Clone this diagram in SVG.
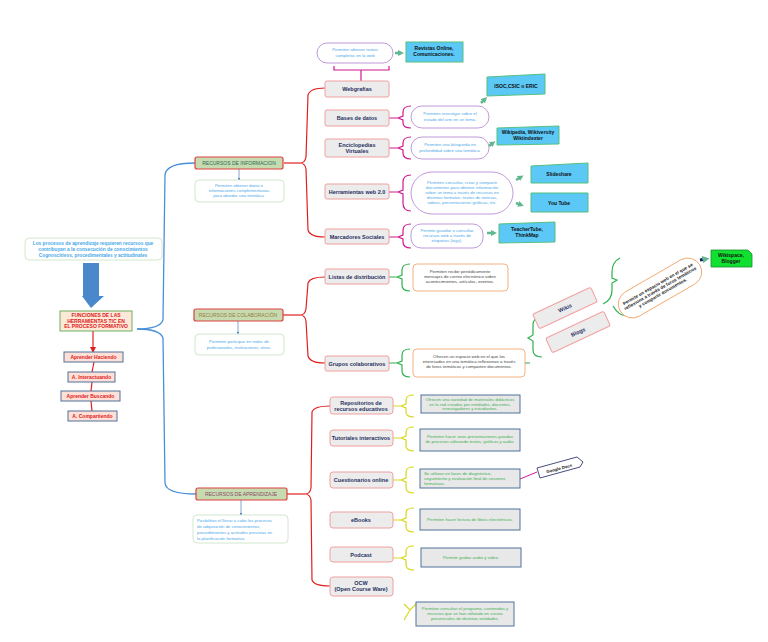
<svg xmlns="http://www.w3.org/2000/svg" width="768" height="642" viewBox="0 0 768 642">
<defs>
<style>
text{font-family:"Liberation Sans",Arial,sans-serif;text-anchor:middle}
.st{text-anchor:start}
.nd{fill:#ececec;stroke:#f2a0a0;stroke-width:1}
.nt{font-size:5.5px;font-weight:bold;fill:#1f2f5f}
.rb{fill:#c6dcb0;stroke:#e04040;stroke-width:1.2}
.cy{fill:#5bc8f5;stroke:#55c080;stroke-width:1}
.ct{font-size:5px;font-weight:bold;fill:#111}
.pd{fill:#fff;stroke:#b080d0;stroke-width:0.8}
.dt{font-size:4.3px;fill:#4aa8e8}
.od{fill:#fff;stroke:#f0a060;stroke-width:0.8}
.ot{font-size:4.3px;fill:#444}
.bd{fill:#e8e8e8;stroke:#50709a;stroke-width:1}
.gt{font-size:4.3px;fill:#40b050}
.gd{fill:#fff;stroke:#c8e0c0;stroke-width:0.8}
.lf{fill:#fde0d8;stroke:#50709a;stroke-width:1}
.lt{font-size:5px;font-weight:bold;fill:#e02020}
.red{fill:none;stroke:#e02020;stroke-width:1.2}
.mg{fill:none;stroke:#d01890;stroke-width:1.2}
.gr{fill:none;stroke:#30b050;stroke-width:1.2}
.yl{fill:none;stroke:#d8d820;stroke-width:1.2}
.ga{fill:none;stroke:#60b890;stroke-width:2.5}
</style>
<marker id="ar" viewBox="0 0 6 6" refX="5" refY="3" markerWidth="5" markerHeight="5" orient="auto"><path d="M0,0L6,3L0,6z" fill="#e02020"/></marker>
<marker id="ab" viewBox="0 0 6 6" refX="5" refY="3" markerWidth="4" markerHeight="4" orient="auto"><path d="M0,0L6,3L0,6z" fill="#5080c0"/></marker>
<marker id="ag" viewBox="0 0 6 6" refX="3" refY="3" markerWidth="2.4" markerHeight="2.4" orient="auto"><path d="M0,0L6,3L0,6z" fill="#60b890"/></marker>
</defs>

<g id="connectors">
<path d="M137,329 Q160,329 163,320 L165,175 Q166,163 195,163" fill="none" stroke="#4a90d8" stroke-width="1.3"/>
<path d="M137,329 Q160,329 163,338 L165,483 Q166,494 196,494" fill="none" stroke="#4a90d8" stroke-width="1.3"/>
<line x1="93" y1="331" x2="93" y2="352" class="red" marker-end="url(#ar)"/>
<line x1="94" y1="362" x2="92" y2="372" class="red"/>
<line x1="92" y1="382" x2="91" y2="391" class="red"/>
<line x1="91" y1="401" x2="92" y2="411" class="red"/>
<line x1="239" y1="169" x2="239" y2="180" stroke="#5080c0" stroke-width="0.7" marker-end="url(#ab)"/>
<line x1="238" y1="321" x2="238" y2="334" stroke="#5080c0" stroke-width="0.7" marker-end="url(#ab)"/>
<line x1="241" y1="500" x2="241" y2="515" stroke="#5080c0" stroke-width="0.7" marker-end="url(#ab)"/>
<line x1="284" y1="163" x2="300" y2="163" class="red"/>
<path d="M325,88 Q310,88 308,95 L306,157 Q305,163 300,163 Q305,163 306,169 L308,230 Q310,237 325,237" class="red"/>
<line x1="283" y1="315" x2="300" y2="315" class="red"/>
<path d="M325,277 Q310,277 308,283 L306,309 Q305,315 300,315 Q305,315 306,321 L308,356 Q310,363 325,363" class="red"/>
<line x1="287" y1="494" x2="305" y2="494" class="red"/>
<path d="M330,406 Q314,406 312,412 L311,488 Q310,494 305,494 Q310,494 311,500 L312,580 Q314,586 330,586" class="red"/>
<path d="M334,66 L334,70 L389,70 L389,66 M361,70 L361,81" class="mg"/>
<path d="M389,118 L398,118 M411,106 Q403,106 403,112 L403,116 L398,118 L403,120 L403,123 Q403,128 411,128" class="mg"/>
<path d="M389,148 L398,148 M411,137 Q403,137 403,143 L403,146 L398,148 L403,150 L403,153 Q403,159 411,159" class="mg"/>
<path d="M389,192 L398,192 M411,175 Q403,175 403,182 L403,190 L398,192 L403,194 L403,203 Q403,211 411,211" class="mg"/>
<path d="M389,237 L398,237 M411,224 Q403,224 403,230 L403,235 L398,237 L403,239 L403,242 Q403,248 411,248" class="mg"/>
<path d="M389,277 L397,277 M410,264 Q402,264 402,270 L402,275 L397,277 L402,279 L402,285 Q402,291 410,291" class="gr"/>
<path d="M389,363 L397,363 M410,349 Q402,349 402,355 L402,361 L397,363 L402,365 L402,371 Q402,377 410,377" class="gr"/>
<path d="M525,363 L530,363 M540,318 Q533,318 533,325 L533,335 L528,338 L533,341 L533,350 Q533,357 542,357" class="gr"/>
<path d="M603,304 Q612,300 612,290 L612,283 L617,280 L612,278 L612,272 Q612,262 620,258" class="gr"/>
<path d="M613,306 Q620,318 630,315" class="gr"/>
<path d="M393,406 L401,406 M414,395 Q406,395 406,400 L406,404 L401,406 L406,408 L406,412 Q406,417 414,417" class="yl"/>
<path d="M393,438 L401,438 M414,427 Q406,427 406,432 L406,436 L401,438 L406,440 L406,446 Q406,451 414,451" class="yl"/>
<path d="M393,480 L401,480 M414,467 Q406,467 406,472 L406,478 L401,480 L406,482 L406,488 Q406,493 414,493" class="yl"/>
<path d="M393,520 L401,520 M414,508 Q406,508 406,513 L406,518 L401,520 L406,522 L406,527 Q406,532 414,532" class="yl"/>
<path d="M393,558 L401,558 M414,546 Q406,546 406,551 L406,556 L401,558 L406,560 L406,565 Q406,570 414,570" class="yl"/>
<path d="M410,610 L404,620 M404,604 L410,610 L416,604 L421,608" class="yl"/>
<line x1="520" y1="479" x2="537" y2="472" stroke="#d01890" stroke-width="1"/>
<line x1="395" y1="53" x2="401" y2="53" class="ga" marker-end="url(#ag)"/>
<line x1="481" y1="103" x2="485" y2="99" class="ga" marker-end="url(#ag)"/>
<line x1="489" y1="146" x2="493" y2="143" class="ga" marker-end="url(#ag)"/>
<line x1="516" y1="180" x2="521" y2="177" class="ga" marker-end="url(#ag)"/>
<line x1="516" y1="203" x2="521" y2="205" class="ga" marker-end="url(#ag)"/>
<line x1="487" y1="233" x2="494" y2="233" class="ga" marker-end="url(#ag)"/>
<line x1="700" y1="260" x2="706" y2="259" stroke="#1a2060" stroke-width="3" marker-end="url(#ag)"/>
</g>

<g id="intro"><rect x="25" y="238" width="137" height="22" rx="4" class="gd"/>
<text x="93" y="245" font-size="4.8" font-weight="bold" fill="#4aa8e8">Los procesos de aprendizaje requieren recursos que</text>
<text x="93" y="251" font-size="4.8" font-weight="bold" fill="#4aa8e8">contribuyan a la consecución de conocimientos</text>
<text x="93" y="257" font-size="4.8" font-weight="bold" fill="#4aa8e8">Cognoscitivos, procedimentales y actitudinales</text></g>
<g id="bigarrow"><path d="M83,263 L99,263 L99,296 L104,296 L91,308 L82,296 L83,296z" fill="#4a88cc"/></g>
<g id="funciones"><rect x="60" y="311" width="72" height="20" fill="#fde9d9" stroke="#6cb060" stroke-width="1"/>
<text x="96" y="317" class="lt" font-size="4.8">FUNCIONES DE LAS</text><text x="96" y="322.5" class="lt" font-size="4.8">HERRAMIENTAS TIC EN</text><text x="96" y="328" class="lt" font-size="4.8">EL PROCESO FORMATIVO</text></g>
<g id="haciendo"><rect x="64" y="352" width="59" height="10" class="lf"/><text x="93.5" y="359" class="lt">Aprender Haciendo</text></g>
<g id="interactuando"><rect x="68" y="372" width="47" height="10" class="lf"/><text x="91.5" y="379" class="lt">A. Interactuando</text></g>
<g id="buscando"><rect x="61" y="391" width="59" height="10" class="lf"/><text x="90.5" y="398" class="lt">Aprender Buscando</text></g>
<g id="compartiendo"><rect x="68" y="411" width="49" height="10" class="lf"/><text x="92.5" y="418" class="lt">A. Compartiendo</text></g>

<g id="rinfo"><rect x="195" y="157" width="88" height="12" rx="2" class="rb"/><text x="239" y="165" font-size="5" fill="#2a6a5a">RECURSOS DE INFORMACION</text></g>
<g id="dinfo"><rect x="195" y="180" width="89" height="22" rx="4" class="gd"/><text x="239" y="187" class="dt">Permiten obtener datos e</text><text x="239" y="192" class="dt">informaciones complementarias</text><text x="239" y="197" class="dt">para abordar una temática.</text></g>
<g id="rcolab"><rect x="194" y="309" width="89" height="12" rx="2" class="rb"/><text x="238" y="317" font-size="5" fill="#9a7a40">RECURSOS DE COLABORACIÓN</text></g>
<g id="dcolab"><rect x="195" y="334" width="89" height="21" rx="4" class="gd"/><text x="239" y="343" class="dt">Permiten participar en redes de</text><text x="239" y="349" class="dt">profesionales, instituciones, otros.</text></g>
<g id="raprend"><rect x="196" y="488" width="91" height="12" rx="2" class="rb"/><text x="241" y="496" font-size="5" fill="#8a4a6a">RECURSOS DE APRENDIZAJE</text></g>
<g id="daprend"><rect x="193" y="515" width="95" height="28" rx="4" class="gd"/>
<text x="197" y="522" class="dt st">Posibilitan el llevar a cabo los procesos</text><text x="197" y="528" class="dt st">de    adquisición    de    conocimientos,</text><text x="197" y="534" class="dt st">procedimientos y actitudes previstas en</text><text x="197" y="540" class="dt st">la planificación formativa.</text></g>

<g id="webgrafias"><rect x="325" y="81" width="64" height="16" rx="2" class="nd"/><text x="357" y="91" class="nt">Webgrafías</text></g>
<g id="bases"><rect x="325" y="110" width="64" height="16" rx="2" class="nd"/><text x="357" y="120" class="nt">Bases de datos</text></g>
<g id="enciclo"><rect x="325" y="139" width="64" height="18" rx="2" class="nd"/><text x="357" y="147" class="nt">Enciclopedias</text><text x="357" y="153" class="nt">Virtuales</text></g>
<g id="herram"><rect x="325" y="184" width="64" height="15" rx="2" class="nd"/><text x="357" y="193.5" class="nt">Herramientas web 2.0</text></g>
<g id="marcad"><rect x="325" y="229" width="64" height="15" rx="2" class="nd"/><text x="357" y="238.5" class="nt">Marcadores Sociales</text></g>

<g id="dweb"><rect x="317" y="43" width="76" height="20" rx="10" class="pd"/><text x="355" y="51" class="dt">Permiten obtener textos</text><text x="355" y="57" class="dt">completos en la web</text></g>
<g id="revistas"><rect x="406" y="42" width="57" height="20" class="cy"/><text x="434" y="50" class="ct">Revistas Online,</text><text x="434" y="56" class="ct">Comunicaciones.</text></g>
<g id="dbases"><rect x="411" y="106" width="78" height="22" rx="11" class="pd"/><text x="450" y="115" class="dt">Permiten investigar sobre el</text><text x="450" y="121" class="dt">estado del arte en un tema.</text></g>
<g id="isoc"><polygon points="487,77 545,74 545,94 487,96" class="cy"/><text x="516" y="88" class="ct">ISOC,CSIC o ERIC</text></g>
<g id="denc"><rect x="411" y="137" width="78" height="22" rx="11" class="pd"/><text x="450" y="146" class="dt">Permiten  una  búsqueda  en</text><text x="450" y="152" class="dt">profundidad sobre una temática.</text></g>
<g id="wiki"><polygon points="497,128 559,126 559,144 497,145" class="cy"/><text x="528" y="134" class="ct">Wikipedia, Wikiversity</text><text x="528" y="140" class="ct">Wikiindexter</text></g>
<g id="dherr"><rect x="411" y="172" width="102" height="42" rx="21" class="pd"/><text x="462" y="184" class="dt">Permiten consultar, crear y compartir</text><text x="462" y="189" class="dt">documentos para obtener información</text><text x="462" y="194" class="dt">sobre un tema a través de recursos en</text><text x="462" y="199" class="dt">distintos formatos: textos de noticias,</text><text x="462" y="204" class="dt">videos, presentaciones gráficas, etc.</text></g>
<g id="slideshare"><polygon points="531,166 588,163 588,183 531,183" class="cy"/><text x="559" y="176" class="ct">Slideshare</text></g>
<g id="youtube"><polygon points="531,193 588,193 588,212 531,212" class="cy"/><text x="559" y="205" class="ct">You Tube</text></g>
<g id="dmarc"><rect x="411" y="224" width="72" height="24" rx="10" class="pd"/><text x="447" y="232" class="dt">Permite guardar o consultar</text><text x="447" y="237" class="dt">recursos web a través de</text><text x="447" y="242" class="dt">etiquetas (tags).</text></g>
<g id="teacher"><polygon points="499,224 555,222 555,242 499,243" class="cy"/><text x="527" y="231" class="ct">TeacherTube,</text><text x="527" y="237" class="ct">ThinkMap</text></g>

<g id="listas"><rect x="325" y="269" width="64" height="15" rx="2" class="nd"/><text x="357" y="278.5" class="nt">Listas de distribución</text></g>
<g id="grupos"><rect x="325" y="356" width="64" height="15" rx="2" class="nd"/><text x="357" y="365.5" class="nt">Grupos colaborativos</text></g>
<g id="dlistas"><rect x="413" y="264" width="95" height="27" rx="4" class="od"/><text x="460" y="273" class="ot">Permiten recibir periódicamente</text><text x="460" y="278" class="ot">mensajes de correo electrónico sobre</text><text x="460" y="283" class="ot">acontecimientos, artículos, eventos.</text></g>
<g id="dgrupos"><rect x="413" y="349" width="112" height="28" rx="4" class="od"/><text x="469" y="358" class="ot">Ofrecen un espacio web en el que los</text><text x="469" y="363" class="ot">interesados en una temática reflexionan a través</text><text x="469" y="368" class="ot">de foros temáticos y comparten documentos.</text></g>
<g id="wikis" transform="translate(565,308) rotate(-25)"><rect x="-32" y="-8" width="64" height="16" rx="2" class="nd"/><text x="0" y="2" class="nt">Wikis</text></g>
<g id="blogs" transform="translate(578,332) rotate(-25)"><rect x="-32" y="-8" width="64" height="16" rx="2" class="nd"/><text x="0" y="2" class="nt">Blogs</text></g>
<g id="dwikis" transform="translate(660,288) rotate(-30)"><rect x="-46" y="-14" width="92" height="28" rx="14" class="od"/><text x="0" y="-3" font-size="4.6" font-weight="bold" fill="#222">Permite un espacio web en el que se</text><text x="0" y="2" font-size="4.6" font-weight="bold" fill="#222">reflexiona a través de foros temáticos</text><text x="0" y="7" font-size="4.6" font-weight="bold" fill="#222">y compartir documentos.</text></g>
<g id="wikispaces"><polygon points="711,250 748,250 752,254 752,267 711,267" fill="#10e030" stroke="#208a30" stroke-width="0.8"/><text x="731" y="257" class="ct" font-size="4.5">Wikispace,</text><text x="731" y="263" class="ct" font-size="4.5">Blogger</text></g>

<g id="repos"><rect x="330" y="397" width="63" height="17" rx="3" class="nd"/><text x="361" y="404.5" class="nt">Repositorios de</text><text x="361" y="410.5" class="nt">recursos educativos</text></g>
<g id="tutor"><rect x="330" y="430" width="63" height="16" rx="3" class="nd"/><text x="361" y="440" class="nt">Tutoriales interactivos</text></g>
<g id="cuest"><rect x="330" y="472" width="63" height="16" rx="3" class="nd"/><text x="361" y="482" class="nt">Cuestionarios online</text></g>
<g id="ebooks"><rect x="330" y="512" width="63" height="16" rx="3" class="nd"/><text x="361" y="522" class="nt">eBooks</text></g>
<g id="podcast"><rect x="330" y="547" width="63" height="15" rx="3" class="nd"/><text x="361" y="556.5" class="nt">Podcast</text></g>
<g id="ocw"><rect x="330" y="577" width="63" height="19" rx="3" class="nd"/><text x="361" y="585" class="nt">OCW</text><text x="361" y="591" class="nt">(Open Course Ware)</text></g>
<g id="drepos"><rect x="421" y="395" width="99" height="18" class="bd"/><text x="470" y="401" class="gt">Ofrecen una variedad de materiales didácticos</text><text x="470" y="405.5" class="gt">en la red creados por entidades, docentes,</text><text x="470" y="410" class="gt">investigadores y estudiantes.</text></g>
<g id="dtutor"><rect x="420" y="429" width="100" height="22" class="bd"/><text x="470" y="438" class="gt">Permiten hacer unas presentaciones guiadas</text><text x="470" y="443" class="gt">de procesos utilizando textos, gráficos y audio.</text></g>
<g id="dcuest"><rect x="420" y="469" width="100" height="19" class="bd"/><text x="424" y="475" class="gt st">Se  utilizan  en  fases  de  diagnóstico,</text><text x="424" y="480" class="gt st">seguimiento  y  evaluación  final  de  sesiones</text><text x="424" y="485" class="gt st">formativas.</text></g>
<g id="gdocs"><polygon points="537,468 577,457 583,462 580,467 540,478" fill="#fff" stroke="#1a2060" stroke-width="0.8"/><text x="559" y="470" font-size="4.3" font-weight="bold" fill="#111" transform="rotate(-15,559,468)">Google Docs</text></g>
<g id="debooks"><rect x="420" y="509" width="100" height="21" class="bd"/><text x="470" y="521" class="gt">Permiten hacer lectura de libros electrónicos.</text></g>
<g id="dpodcast"><rect x="421" y="548" width="100" height="19" class="bd"/><text x="471" y="559" class="gt">Permite grabar audio y video.</text></g>
<g id="docw"><rect x="416" y="602" width="98" height="24" class="bd"/><text x="465" y="610" class="gt">Permiten consultar el programa, contenidos y</text><text x="465" y="615" class="gt">recursos que se han utilizado en cursos</text><text x="465" y="620" class="gt">presenciales de distintas entidades.</text></g>
</svg>
